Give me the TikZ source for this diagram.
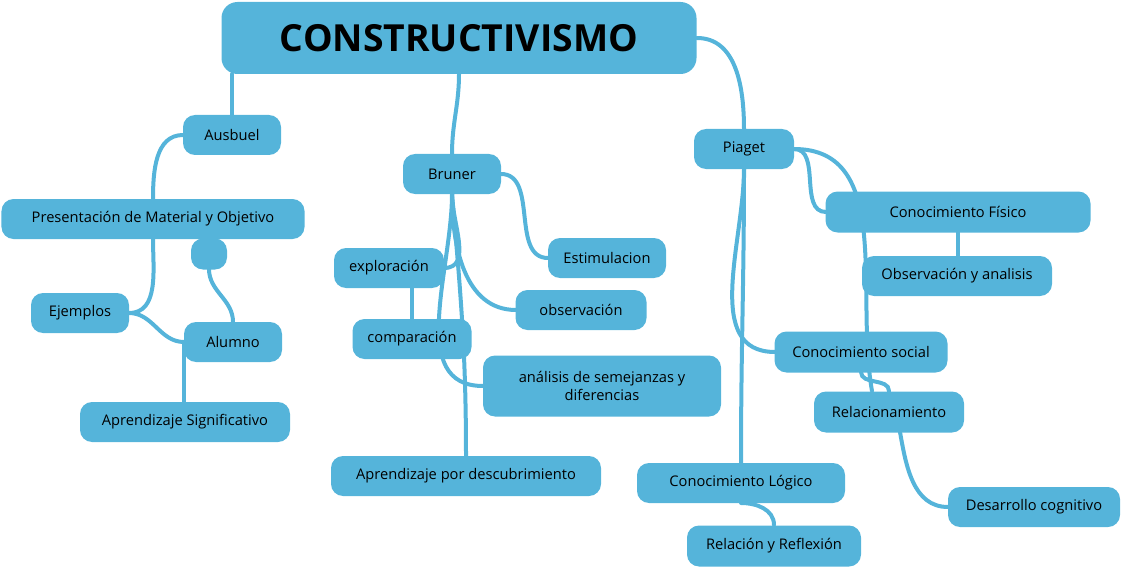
\documentclass[tikz,border=0pt]{standalone}
\usepackage{fontspec}
\setmainfont{Open Sans}
\definecolor{bx}{HTML}{55B4DA}
\begin{document}
\begin{tikzpicture}[x=0.75pt,y=-0.75pt,
 bb/.style={fill=bx,draw=none,rounded corners=9pt,inner sep=0pt,align=center,font=\fontsize{11}{13}\selectfont},
 ln/.style={draw=bx,line width=3pt,line cap=round}]
\useasboundingbox (0,0) rectangle (1122,567);
\newcommand\bx[6]{\node[bb,minimum width=#4*0.75pt,minimum height=#5*0.75pt] (#1) at (#2,#3) {#6};}
% connectors
\coordinate (r1) at (232,74); \coordinate (r2) at (459,74); \coordinate (r3) at (697,38);
\coordinate (pr) at (794,149);
\begin{scope}[ln]
\draw (r1) -- (232,116);
\draw (183,135) to[out=180,in=90] (153,199);
\draw (153,239) to[out=-90,in=0] (129,313);
\draw (209,269) to[out=-90,in=90] (233,322);
\draw (129,313) to[out=0,in=180] (184,342);
\draw (184,342) -- (184,402);
\draw (r2) to[out=-90,in=90] (452,154);
\draw (452,194) to[out=-90,in=0] (444,268);
\draw (501,174) to[out=0,in=180] (548,258);
\draw (452,194) to[out=-90,in=180] (516,310);
\draw (412,288) -- (412,319);
\draw (452,194) to[out=-90,in=180] (483,386);
\draw (452,194) to[out=-85,in=90] (466,456);
\draw (r3) to[out=0,in=90] (744,129);
\draw (pr) to[out=0,in=180] (826,212);
\draw (958,232) -- (958,256);
\draw (744,169) to[out=-90,in=180] (775,352);
\draw (pr) to[out=0,in=100] (872,391);
\draw (861,372) to[out=-90,in=90] (889,391);
\draw (900,432) to[out=-80,in=180] (948,507);
\draw (744,169) to[out=-90,in=90] (741,463);
\draw (741,503) to[out=0,in=90] (774,525);
\end{scope}
% nodes
\node[bb,minimum width=475*0.75pt,minimum height=72*0.75pt,rounded corners=12pt,font=\fontsize{28}{30}\bfseries\selectfont] (root) at (459,38) {CONSTRUCTIVISMO};
\bx{aus}{232}{135}{98}{40}{Ausbuel}
\bx{pres}{153}{219}{303}{40}{Presentación de Material y Objetivo}
\bx{blank}{209}{254}{36}{31}{}
\bx{ej}{80}{313}{98}{40}{Ejemplos}
\bx{al}{233}{342}{98}{40}{Alumno}
\bx{as}{185}{422}{210}{40}{Aprendizaje Significativo}
\bx{bru}{452}{174}{98}{40}{Bruner}
\bx{exp}{389}{268}{110}{40}{exploración}
\bx{est}{607}{258}{118}{40}{Estimulacion}
\bx{obs}{581}{310}{131}{40}{observación}
\bx{comp}{412}{339}{119}{40}{comparación}
\bx{ana}{602}{386}{238}{61}{análisis de semejanzas y\\diferencias}
\bx{apd}{466}{476}{270}{40}{Aprendizaje por descubrimiento}
\bx{pia}{744}{149}{100}{40}{Piaget}
\bx{cf}{958}{212}{265}{41}{Conocimiento Físico}
\bx{oa}{957}{276}{190}{40}{Observación y analisis}
\bx{cs}{861}{352}{173}{41}{Conocimiento social}
\bx{rel}{889}{412}{150}{41}{Relacionamiento}
\bx{dc}{1034}{507}{172}{40}{Desarrollo cognitivo}
\bx{cl}{741}{483}{208}{40}{Conocimiento Lógico}
\bx{ryr}{774}{546}{174}{41}{Relación y Reflexión}
\end{tikzpicture}
\end{document}
